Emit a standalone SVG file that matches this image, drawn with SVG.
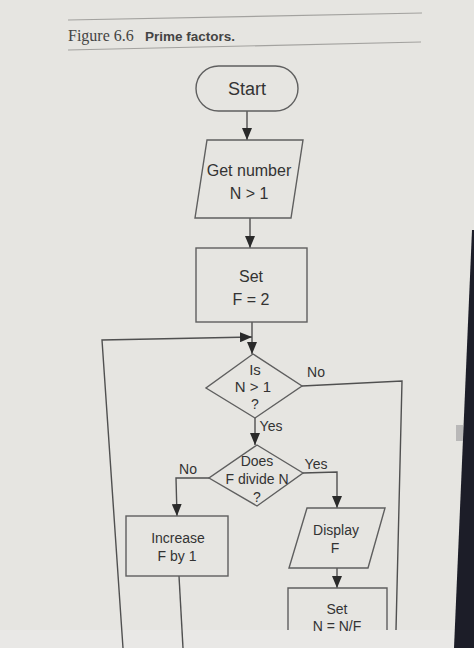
<svg xmlns="http://www.w3.org/2000/svg" width="474" height="648" viewBox="0 0 474 648">
<style>
  .shape { fill: none; stroke: #5f5f5f; stroke-width: 1.4; }
  .conn { fill: none; stroke: #505050; stroke-width: 1.4; }
  .t { font-family: "Liberation Sans", Arial, sans-serif; fill: #333; text-anchor: middle; dominant-baseline: central; }
  .lbl { font-size: 14px; }
  .rule { stroke: #a3a29f; stroke-width: 1.2; }
</style>
<defs>
  <marker id="ah" viewBox="0 0 12 10" refX="12" refY="5" markerWidth="12" markerHeight="10" orient="auto" markerUnits="userSpaceOnUse">
    <path d="M0,0 L12,5 L0,10 z" fill="#2a2a2a"/>
  </marker>
</defs>
<rect x="0" y="0" width="474" height="648" fill="#e6e5e1"/>
<rect x="0" y="630" width="474" height="18" fill="#e9e8e6"/>
<polygon points="472,230 474,230 474,648 454,648" fill="#1c1d28"/>
<rect x="456" y="425" width="7" height="16" fill="#b9b8b8"/>

<g id="title">
  <line class="rule" x1="68" y1="20" x2="422" y2="13"/>
  <line class="rule" x1="68" y1="50" x2="421" y2="42"/>
  <text x="68" y="41" font-family="Liberation Serif, serif" font-size="16" fill="#444">Figure 6.6</text>
  <text x="145" y="41" font-family="Liberation Sans, Arial, sans-serif" font-size="13.5" font-weight="bold" fill="#444">Prime factors.</text>
</g>

<g id="connectors">
  <path class="conn" d="M247,111 V140" marker-end="url(#ah)"/>
  <path class="conn" d="M250,218 V248" marker-end="url(#ah)"/>
  <path class="conn" d="M252,322 V354" marker-end="url(#ah)"/>
  <path class="conn" d="M123,648 L102,340 L252,337" marker-end="url(#ah)"/>
  <path class="conn" d="M302,386 L402,381 L396,630"/>
  <path class="conn" d="M255,418 V445" marker-end="url(#ah)"/>
  <path class="conn" d="M209,478 L176,478 L177,516" marker-end="url(#ah)"/>
  <path class="conn" d="M303,473 L337,472 L337,508" marker-end="url(#ah)"/>
  <path class="conn" d="M337,568 V588" marker-end="url(#ah)"/>
  <path class="conn" d="M179,576 L183,648"/>
  <text class="t lbl" x="316" y="372">No</text>
  <text class="t lbl" x="271" y="426">Yes</text>
  <text class="t lbl" x="188" y="469">No</text>
  <text class="t lbl" x="316" y="464">Yes</text>
</g>

<g id="start">
  <rect class="shape" x="196" y="66" width="102" height="45" rx="22.5"/>
  <text class="t" x="247" y="89" font-size="18">Start</text>
</g>

<g id="get-number">
  <polygon class="shape" points="207,140 303,140 291,218 195,218"/>
  <text class="t" x="249" y="170" font-size="16">Get number</text>
  <text class="t" x="249" y="193" font-size="16">N &gt; 1</text>
</g>

<g id="set-f">
  <rect class="shape" x="196" y="248" width="111" height="74"/>
  <text class="t" x="251" y="276" font-size="16">Set</text>
  <text class="t" x="251" y="299" font-size="16">F = 2</text>
</g>

<g id="is-n-gt-1">
  <polygon class="shape" points="253,354 302,386 255,418 206,388"/>
  <text class="t" x="255" y="369" font-size="15">Is</text>
  <text class="t" x="253" y="386" font-size="15">N &gt; 1</text>
  <text class="t" x="255" y="404" font-size="14">?</text>
</g>

<g id="does-f-divide-n">
  <polygon class="shape" points="257,445 303,473 257,506 209,478"/>
  <text class="t" x="257" y="461" font-size="14">Does</text>
  <text class="t" x="257" y="479" font-size="14">F divide N</text>
  <text class="t" x="257" y="497" font-size="14">?</text>
</g>

<g id="increase-f">
  <rect class="shape" x="126" y="516" width="102" height="60"/>
  <text class="t" x="178" y="538" font-size="14">Increase</text>
  <text class="t" x="177" y="556" font-size="14">F by 1</text>
</g>

<g id="display-f">
  <polygon class="shape" points="307,508 385,508 368,568 289,568"/>
  <text class="t" x="336" y="530" font-size="14">Display</text>
  <text class="t" x="335" y="548" font-size="14">F</text>
</g>

<g id="set-n">
  <path class="shape" d="M288,630 V588 H387 V630"/>
  <text class="t" x="337" y="609" font-size="14">Set</text>
  <text class="t" x="337" y="626" font-size="14">N = N/F</text>
</g>
</svg>
